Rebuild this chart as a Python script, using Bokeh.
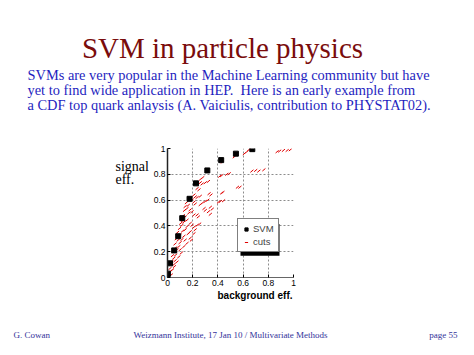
from bokeh.plotting import figure
from bokeh.layouts import column, row
from bokeh.models import Legend, LegendItem, FixedTicker, BoxAnnotation, Range1d
from bokeh.core.properties import value
from bokeh.embed import file_html
from bokeh.resources import INLINE

# ---------------- text content ----------------
title_text = "SVM in particle physics"
body_lines = [
    "SVMs are very popular in the Machine Learning community but have",
    "yet to find wide application in HEP.\u00a0 Here is an early example from",
    "a CDF top quark anlaysis (A. Vaiciulis, contribution to PHYSTAT02).",
]
footer_left = "G. Cowan"
footer_mid = "Weizmann Institute, 17 Jan 10 / Multivariate Methods"
footer_right = "page 55"
y_title_lines = ["signal", "eff."]
x_title = "background eff."

# ---------------- data ----------------
svm_bkg = [0.0, 0.003, 0.02, 0.053, 0.085, 0.117, 0.175, 0.226, 0.316, 0.426, 0.543, 0.673]
svm_sig = [0.01, 0.03, 0.11, 0.21, 0.32, 0.46, 0.61, 0.73, 0.83, 0.91, 0.96, 0.995]

cuts_bkg = [
    0.61, 0.63, 0.645, 0.53, 0.535, 0.435, 0.47, 0.49, 0.415, 0.43,
    0.67, 0.70, 0.725, 0.765, 0.87, 0.89, 0.92, 0.95, 0.975,
    0.555, 0.575, 0.43, 0.44, 0.405, 0.42, 0.445,
    0.26, 0.275, 0.30, 0.325, 0.33, 0.345, 0.26, 0.28, 0.235, 0.25,
    0.21, 0.22, 0.235, 0.26, 0.195, 0.21, 0.22, 0.26, 0.28, 0.30, 0.32,
    0.34, 0.355, 0.325, 0.29, 0.30, 0.34, 0.165, 0.155, 0.18, 0.17,
    0.195, 0.21, 0.235, 0.245, 0.14, 0.155, 0.13, 0.115,
    0.18, 0.195, 0.21, 0.235, 0.255, 0.22, 0.155, 0.14,
    0.165, 0.18, 0.21, 0.13, 0.115, 0.10, 0.14, 0.155, 0.13, 0.18, 0.19,
    0.09, 0.075, 0.065, 0.05, 0.10, 0.11, 0.09,
    0.035, 0.05, 0.02, 0.025, 0.015, 0.06, 0.075, 0.055, 0.04, 0.03, 0.01,
    0.07, 0.08, 0.095, 0.06, 0.045, 0.04, 0.10, 0.12, 0.085, 0.065,
    0.105, 0.12, 0.125, 0.135, 0.14, 0.15,
]
cuts_sig = [
    0.96, 0.975, 0.99, 0.935, 0.95, 0.895, 0.80, 0.805, 0.785, 0.79,
    0.825, 0.83, 0.825, 0.835, 0.975, 0.98, 0.985, 0.985, 0.99,
    0.70, 0.70, 0.655, 0.66, 0.585, 0.59, 0.595,
    0.735, 0.725, 0.735, 0.745, 0.65, 0.64, 0.76, 0.775, 0.69, 0.68,
    0.64, 0.625, 0.62, 0.63, 0.60, 0.585, 0.57, 0.565, 0.58, 0.59, 0.60,
    0.545, 0.53, 0.51, 0.535, 0.52, 0.49, 0.56, 0.535, 0.525, 0.50,
    0.51, 0.485, 0.485, 0.47, 0.47, 0.445, 0.43, 0.405,
    0.42, 0.405, 0.39, 0.405, 0.415, 0.37, 0.395, 0.37,
    0.34, 0.355, 0.34, 0.32, 0.295, 0.27, 0.29, 0.265, 0.24, 0.305, 0.29,
    0.24, 0.215, 0.175, 0.15, 0.215, 0.19, 0.16,
    0.125, 0.10, 0.07, 0.05, 0.035, 0.13, 0.12, 0.085, 0.06, 0.02, 0.015,
    0.30, 0.35, 0.38, 0.26, 0.20, 0.17, 0.33, 0.36, 0.29, 0.23,
    0.42, 0.44, 0.48, 0.52, 0.55, 0.58,
]

tick_values = [0, 0.2, 0.4, 0.6, 0.8, 1]
tick_labels = ["0", "0.2", "0.4", "0.6", "0.8", "1"]

# ---------------- layout (page pixels) ----------------
W, H = 474, 355
TOP_H = 140          # slide header band
MID_B = 288          # bottom of chart band
LEFT_W = 150         # width of the "signal eff." panel
FL, FR, FT, FB = 167, 293, 148, 278   # chart frame on the page


def text_panel(w, y0, y1, x0=0):
    f = figure(width=w, height=y1 - y0, x_range=Range1d(x0, x0 + w), y_range=Range1d(y1, y0),
               x_axis_type=None, y_axis_type=None, output_backend="svg",
               toolbar_location=None, min_border=0)
    f.grid.visible = False
    f.outline_line_color = None
    f.background_fill_color = "white"
    f.border_fill_color = "white"
    return f


# header
top = text_panel(W, 0, TOP_H)
top.text(x=[222], y=[47], text=[title_text], text_font=value("Liberation Serif"),
         text_font_size="29px", text_color="#7a0c0c", text_align="center",
         text_baseline="alphabetic")
top.text(x=[27] * len(body_lines), y=[74 + 15 * i for i in range(len(body_lines))],
         text=body_lines, text_font=value("Liberation Serif"), text_font_size="14.4px",
         text_color="#1f1fc0", text_align="left", text_baseline="alphabetic")

# y title panel
left = text_panel(LEFT_W, TOP_H, MID_B)
left.text(x=[115] * len(y_title_lines), y=[161 + 14 * i for i in range(len(y_title_lines))],
          text=y_title_lines, text_font=value("Liberation Serif"), text_font_size="14px",
          text_color="black", text_align="left", text_baseline="alphabetic")

# chart
p = figure(width=W - LEFT_W, height=MID_B - TOP_H, x_range=Range1d(0, 1), y_range=Range1d(0, 1),
           output_backend="svg", toolbar_location=None,
           min_border_left=FL - LEFT_W, min_border_right=W - FR,
           min_border_top=FT - TOP_H, min_border_bottom=MID_B - FB)
p.outline_line_color = None
p.background_fill_color = "white"
p.border_fill_color = "white"

for ax in (p.xaxis[0], p.yaxis[0]):
    ax.ticker = FixedTicker(ticks=tick_values)
    ax.major_label_overrides = dict(zip(tick_values, tick_labels))
    ax.minor_tick_line_color = None
    ax.major_tick_in = 3
    ax.major_tick_out = 0
    ax.major_label_text_font = "Liberation Sans"
    ax.major_label_text_font_size = "8.5px"
    ax.major_label_text_color = "black"
    ax.major_label_standoff = 2
p.yaxis.axis_line_color = "#222222"
p.yaxis.axis_line_width = 1.5
p.xaxis.axis_line_color = "#666666"
p.xaxis.axis_line_width = 1
p.grid.ticker = FixedTicker(ticks=tick_values)
p.grid.grid_line_color = "#8c8c8c"
p.grid.grid_line_dash = "2 2"
p.grid.grid_line_width = 1

cuts_r = p.scatter(cuts_bkg, cuts_sig, marker="dash", size=4, angle=0.7,
                   line_color="#e00000", line_width=1)
svm_r = p.scatter(svm_bkg, svm_sig, marker="square", size=5,
                  fill_color="black", line_color="black")


def fx(px):
    return (px - FL) / (FR - FL)


def fy(py):
    return (FB - py) / (FB - FT)


# legend shadow
p.add_layout(BoxAnnotation(left=fx(240), right=fx(279), top=fy(224), bottom=fy(256),
                           fill_color="black", fill_alpha=1, line_color=None))

legend = Legend(items=[LegendItem(label="SVM", renderers=[svm_r]),
                       LegendItem(label="cuts", renderers=[cuts_r])],
                location=(70, 25), orientation="vertical",
                label_text_font="Liberation Sans", label_text_font_size="9.5px",
                glyph_width=8, glyph_height=8, label_standoff=3, spacing=2,
                padding=4, margin=0, label_height=10,
                border_line_color="black", border_line_width=1,
                background_fill_color="white", background_fill_alpha=1)
p.add_layout(legend)

# bottom band: x title + footer
bottom = text_panel(W, MID_B, H)
bottom.text(x=[292], y=[295], text=[x_title], text_font=value("Liberation Sans"),
            text_font_size="10px", text_font_style="bold", text_color="black",
            text_align="right", text_baseline="alphabetic")
bottom.text(x=[13, 230, 457], y=[334, 334, 334], text=[footer_left, footer_mid, footer_right],
            text_font=value("Liberation Serif"), text_font_size="9px", text_color="#33339a",
            text_align=["left", "center", "right"], text_baseline="middle")

page = column(top, row(left, p, spacing=0), bottom, spacing=0)

open("out.html", "w").write(file_html(page, INLINE))
